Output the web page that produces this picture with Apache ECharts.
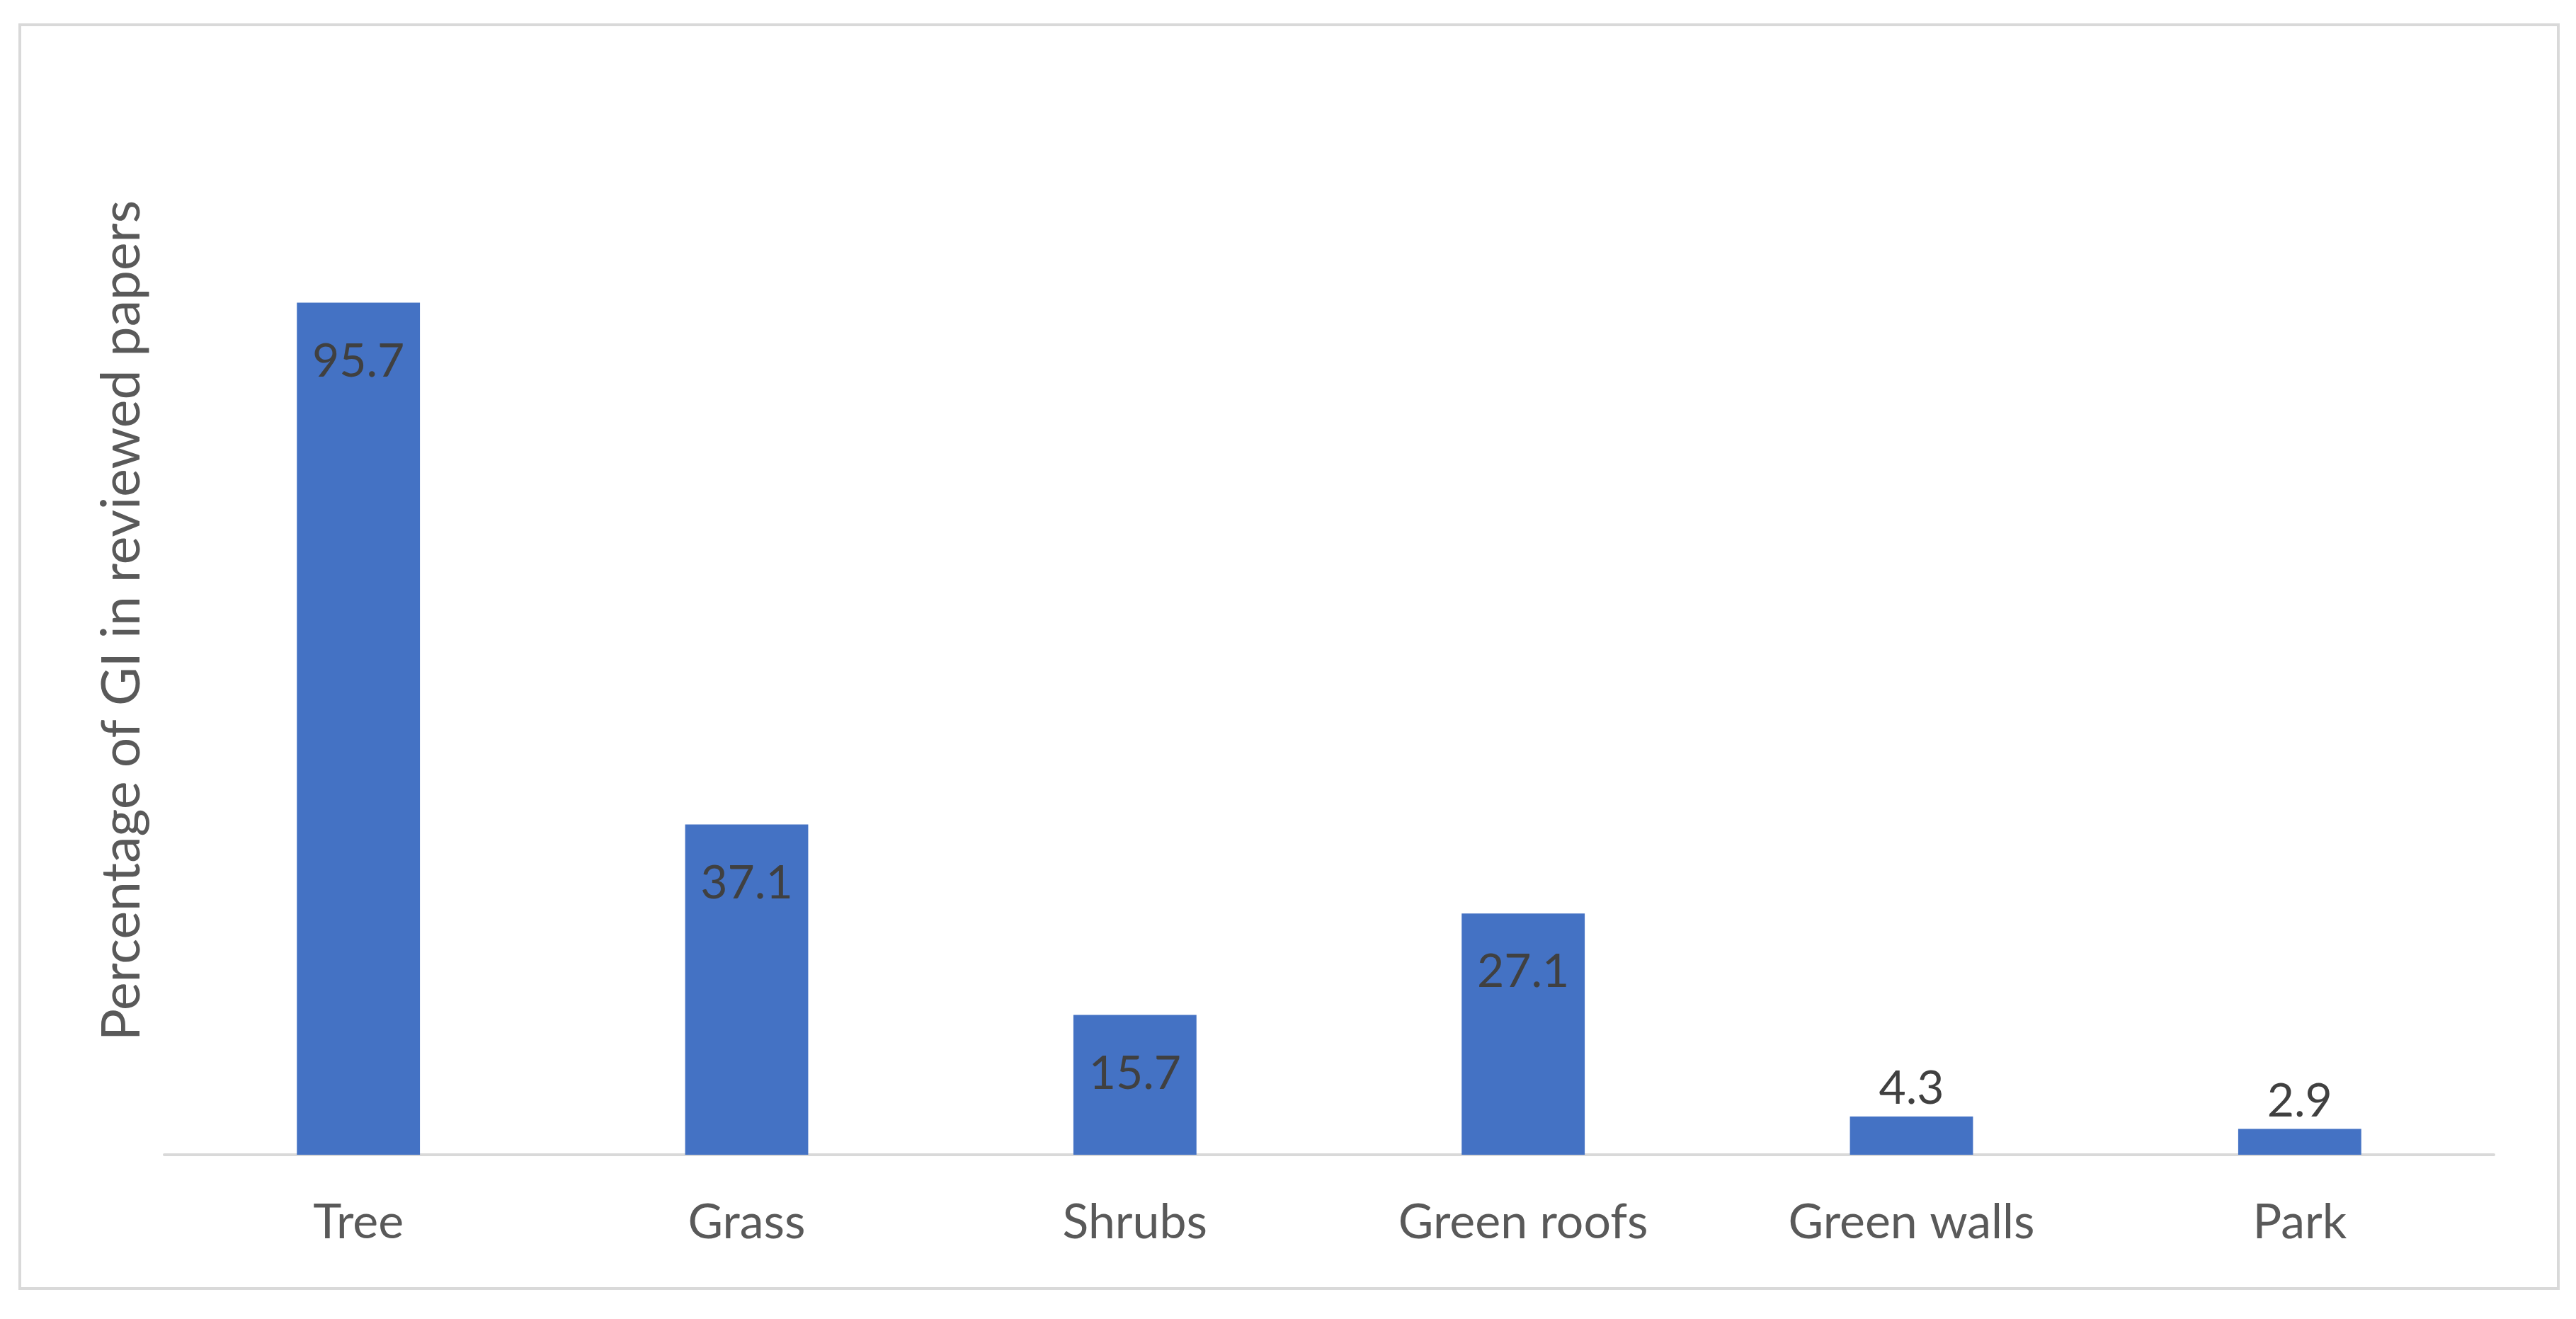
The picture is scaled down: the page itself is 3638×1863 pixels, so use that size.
<!DOCTYPE html>
<html>
<head>
<meta charset="utf-8">
<style>
html,body{margin:0;padding:0;background:#fff;}
#chart{width:3638px;height:1863px;}
</style>
<script src="https://cdn.jsdelivr.net/npm/echarts@6/dist/echarts.min.js"></script>
</head>
<body>
<div id="chart"></div>
<script>
const categories = ["Tree", "Grass", "Shrubs", "Green roofs", "Green walls", "Park"];
const values = [95.7, 37.1, 15.7, 27.1, 4.3, 2.9];
const yAxisTitle = "Percentage of GI in reviewed papers";

const FONT = "Lato, 'Open Sans', sans-serif";
const chart = echarts.init(document.getElementById('chart'), null, {renderer: 'canvas'});

const data = values.map(v => v < 10
  ? {value: v, label: {position: 'top', distance: 6}}
  : {value: v});

chart.setOption({
  backgroundColor: '#ffffff',
  animation: false,
  graphic: [{
    type: 'rect',
    shape: {x: 28, y: 35, width: 3585, height: 1785},
    style: {fill: 'none', stroke: '#d9d9d9', lineWidth: 4},
    silent: true
  }],
  grid: {left: 232, right: 116, top: 122, bottom: 232, containLabel: false},
  xAxis: {
    type: 'category',
    data: categories,
    axisLine: {show: true, lineStyle: {color: '#d9d9d9', width: 4}},
    axisTick: {show: false},
    axisLabel: {color: '#595959', fontFamily: FONT, fontSize: 68, margin: 62}
  },
  yAxis: {
    type: 'value',
    min: 0,
    max: 120,
    interval: 20,
    name: yAxisTitle,
    nameLocation: 'middle',
    nameGap: 22,
    nameRotate: 90,
    nameTextStyle: {color: '#595959', fontFamily: FONT, fontSize: 75},
    axisLine: {show: false},
    axisTick: {show: false},
    axisLabel: {show: false},
    splitLine: {show: false}
  },
  series: [{
    type: 'bar',
    data: data,
    barWidth: '31.7%',
    itemStyle: {color: '#4472C4'},
    label: {
      show: true,
      position: 'insideTop',
      distance: 50,
      color: '#404040',
      fontFamily: FONT,
      fontSize: 66
    }
  }]
});
</script>
</body>
</html>
